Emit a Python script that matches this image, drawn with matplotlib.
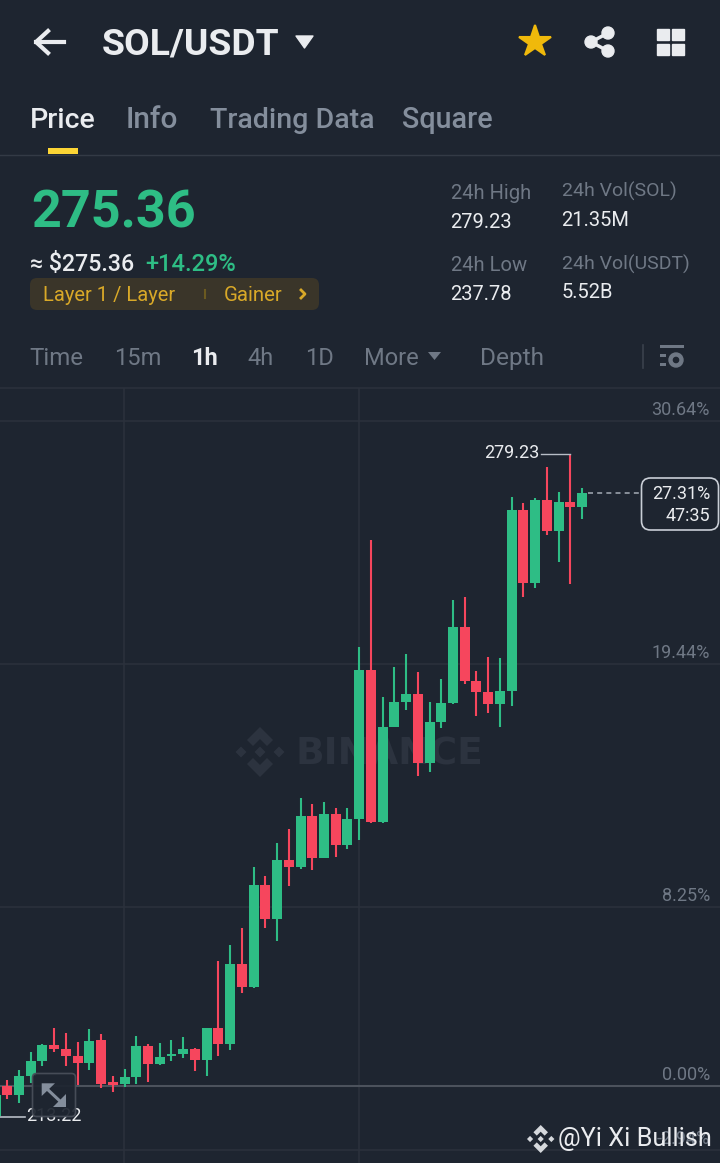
import matplotlib
matplotlib.use('Agg')
import matplotlib.pyplot as plt
from matplotlib.patches import FancyBboxPatch, Polygon, Circle, Rectangle

plt.rcParams['font.family'] = ['Roboto', 'DejaVu Sans']

# candle values, % change against the 216.3 base
highs = [-0.41, 0.28, 0.74, 1.57, 1.92, 2.69, 2.46, 2.03, 2.61, 2.40, 0.47, 0.78, 2.29, 1.92, 2.00, 2.12, 2.24, 1.74,
         2.66, 5.77, 6.50, 7.27, 10.11, 9.68, 11.18, 11.83, 13.27, 12.99, 13.07, 12.81, 12.81, 20.23, 25.16, 17.91,
         19.29, 19.91, 19.08, 17.71, 18.74, 22.39, 22.55, 19.14, 19.78, 19.71, 27.16, 26.85, 27.11, 28.54, 27.36,
         29.12, 27.57]
tops = [-0.41, 0.00, 0.46, 1.15, 1.88, 1.88, 1.69, 1.38, 2.09, 2.11, 0.09, 0.40, 1.86, 1.86, 1.35, 1.49, 1.70, 1.70,
        2.66, 2.66, 5.62, 5.62, 9.25, 9.25, 10.41, 10.41, 12.44, 12.44, 12.53, 12.53, 12.29, 19.17, 19.17, 16.56,
        17.68, 18.08, 18.06, 16.79, 17.63, 21.14, 21.14, 18.66, 18.16, 18.19, 26.54, 26.54, 27.00, 27.00, 26.92,
        26.92, 27.31]
bottoms = [-1.38, -0.43, -0.43, 0.46, 1.15, 1.69, 1.38, 1.07, 1.07, 0.09, 0.05, 0.09, 0.41, 1.01, 1.01, 1.37, 1.49,
           1.18, 1.18, 1.95, 1.95, 4.58, 4.58, 7.68, 7.68, 10.11, 10.11, 10.49, 10.49, 11.11, 11.11, 12.29, 12.18,
           12.18, 16.56, 17.68, 14.87, 14.87, 16.79, 17.63, 18.66, 18.17, 17.60, 17.60, 18.19, 23.18, 23.18, 25.56,
           25.56, 26.69, 26.69]
lows = [-1.42, -0.61, -0.77, 0.14, 0.94, 1.57, 0.92, 0.05, 0.74, -0.11, -0.29, -0.06, 0.09, 0.20, 0.97, 1.15, 1.30,
        0.69, 0.46, 1.40, 1.66, 4.27, 4.52, 7.27, 6.70, 9.22, 9.99, 9.95, 10.49, 10.57, 10.92, 11.34, 12.12, 12.13,
        16.56, 17.33, 14.30, 14.48, 16.51, 17.59, 18.52, 17.05, 17.20, 16.56, 17.52, 22.55, 22.96, 25.40, 24.13,
        23.13, 26.13]
# u = up (green), d = down (red)
colors = ['u', 'd', 'u', 'u', 'u', 'd', 'd', 'd', 'u', 'd', 'd', 'u', 'u', 'd', 'u', 'u', 'u', 'd', 'u', 'd', 'u',
          'd', 'u', 'd', 'u', 'd', 'u', 'd', 'u', 'd', 'u', 'u', 'd', 'u', 'u', 'u', 'd', 'u', 'u', 'u', 'd', 'd',
          'd', 'u', 'u', 'd', 'u', 'd', 'u', 'd', 'u']
grid_levels = [30.64, 19.44, 8.25, -2.94]
label_levels = [30.64, 19.44, 8.25, 0.0, -2.94]
axis_labels = ['30.64%', '19.44%', '8.25%', '0.00%', '-2.94%']

BG = '#1e2530'
GREEN = '#2ebd85'
RED = '#f6465d'
GREY = '#848e9c'
DIM = '#6f7885'
WHITE = '#eaecef'
GRID = '#2b313c'
YELLOW = '#f0b90b'
FAINT = '#2c333f'

W, H = 720, 1163
fig = plt.figure(figsize=(W / 100, H / 100), dpi=100, facecolor=BG)

# chart panel runs from y=388 to the bottom, scales are fitted to the gridlines
ax = fig.add_axes([0, 0, 1, (H - 388) / H], facecolor=BG)
ax.set_xlim(-0.62, 60.76)
ax.set_ylim(-3.55, 32.17)
ax.axis('off')

for lv in grid_levels:
    ax.axhline(lv, color=GRID, lw=1.2, zorder=1)
for xv in [9.99, 30.0]:
    ax.axvline(xv, color=GRID, lw=1.2, zorder=1)
ax.axhline(0, color='#4c525c', lw=1.5, zorder=1)

# watermark sits under the candles
ax.text(32.6, 15.3, 'BINANCE', color=FAINT, fontsize=27, fontweight='bold', family='DejaVu Sans', ha='center',
        va='center', zorder=1.5)

for i in range(len(highs)):
    x = i - 1
    c = GREEN if colors[i] == 'u' else RED
    ax.vlines(x, lows[i], highs[i], color=c, lw=1.5, zorder=3)
    ax.bar(x, max(tops[i] - bottoms[i], 0.12), bottom=bottoms[i], width=0.85, color=c, zorder=3)

for lv, txt in zip(label_levels, axis_labels):
    ax.annotate(txt, (1, lv), xycoords=('axes fraction', 'data'), xytext=(-10, 11), textcoords='offset pixels',
                color=DIM, fontsize=13, ha='right', va='center', zorder=5)

# overlay in screen pixels for the app chrome
ui = fig.add_axes([0, 0, 1, 1], facecolor='none')
ui.set_xlim(0, W)
ui.set_ylim(H, 0)
ui.axis('off')


def label(x, y, s, color=GREY, size=13, weight='normal', ha='left', zorder=6):
    ui.text(x, y + 1.5, s, color=color, fontsize=size, fontweight=weight, ha=ha, va='center', zorder=zorder)


def logo(cx, cy, r, color, zorder=2):
    # diamond mark: centre + side squares + top and bottom chevrons
    d = r * 0.22
    for ox, oy in [[0, 0], [-r * 0.76, 0], [r * 0.76, 0]]:
        ui.add_patch(Polygon([[cx + ox - d, cy + oy], [cx + ox, cy + oy - d], [cx + ox + d, cy + oy],
                              [cx + ox, cy + oy + d]], color=color, lw=0, zorder=zorder))
    for s in [-1, 1]:
        ui.add_patch(Polygon([[cx, cy + s * r], [cx + r * 0.52, cy + s * r * 0.48], [cx + r * 0.28, cy + s * r * 0.24],
                              [cx, cy + s * r * 0.52], [cx - r * 0.28, cy + s * r * 0.24],
                              [cx - r * 0.52, cy + s * r * 0.48]], color=color, lw=0, zorder=zorder))


# header
ui.plot([36, 64], [42, 42], color=WHITE, lw=3)
ui.plot([48, 36, 48], [31, 42, 53], color=WHITE, lw=3)
label(102, 43, 'SOL/USDT', WHITE, 26.8, 'bold')
ui.add_patch(Polygon([[296, 36], [313, 36], [304.5, 48]], color=WHITE, joinstyle='round', lw=1))
ui.plot([535], [42], marker='*', ms=24, color=YELLOW, mec=YELLOW, mew=1.5, mfc=YELLOW)
for cx, cy in [[608, 33], [591, 42], [608, 51]]:
    ui.add_patch(Circle((cx, cy), 6, color=WHITE))
ui.plot([608, 591, 608], [33, 42, 51], color=WHITE, lw=2.5)
for rx, ry in [[657, 29], [672, 29], [657, 44], [672, 44]]:
    ui.add_patch(Rectangle((rx, ry), 12, 11, color=WHITE))

# tabs
label(30, 119, 'Price', WHITE, 20.5, 'medium')
label(126, 119, 'Info', GREY, 21.5, 'medium')
label(210, 119, 'Trading Data', GREY, 20.5, 'medium')
label(402, 119, 'Square', GREY, 20.7, 'medium')
ui.add_patch(Rectangle((48, 148), 30, 6, color='#fcd535', lw=0))
ui.plot([0, 720], [154.5, 154.5], color='#333a45', lw=1)

# price block
label(31, 212, '275.36', GREEN, 37.5, 'bold')
label(30, 263, '≈ $275.36', WHITE, 16.7, 'medium')
label(145, 263, '+14.29%', GREEN, 17, 'medium')
ui.add_patch(FancyBboxPatch((30, 278), 289, 32, boxstyle='round,pad=0,rounding_size=7', fc='#3a3529', ec='none'))
label(43, 294, 'Layer 1 / Layer', '#d9a928', 14.5)
ui.plot([204.5, 204.5], [290, 298], color='#6b5a20', lw=1.5)
label(224, 294, 'Gainer', '#d9a928', 14.7)
ui.plot([301, 305, 301], [290, 294, 298], color='#d9a928', lw=2)

# 24h stats
label(451, 192, '24h High', DIM, 14.5)
label(450, 220.5, '279.23', WHITE, 14.5)
label(562, 190, '24h Vol(SOL)', DIM, 14)
label(561.5, 219.5, '21.35M', WHITE, 14.5)
label(451, 264, '24h Low', DIM, 14.5)
label(450, 292.5, '237.78', WHITE, 14.5)
label(562, 263, '24h Vol(USDT)', DIM, 14)
label(561.5, 291.5, '5.52B', WHITE, 14.5)

# interval row
label(29, 357, 'Time', DIM, 17.3)
label(114, 357, '15m', DIM, 17)
label(191, 357, '1h', WHITE, 17, 'bold')
label(247, 357, '4h', DIM, 17)
label(305, 357, '1D', DIM, 17)
label(364, 357, 'More', DIM, 17)
ui.add_patch(Polygon([[428, 352], [441, 352], [434.5, 360]], color=DIM, lw=0))
label(480, 357, 'Depth', DIM, 17.6)
ui.plot([643, 643], [345, 368], color='#3a414c', lw=1.2)
ui.add_patch(Rectangle((660, 345), 24, 3, color=DIM, lw=0))
ui.add_patch(Rectangle((660, 354), 6, 3, color=DIM, lw=0))
ui.add_patch(Rectangle((660, 363), 6, 3, color=DIM, lw=0))
ui.add_patch(Circle((676, 360), 7, fc=DIM, ec=DIM))
ui.add_patch(Circle((676, 360), 2.6, color=BG))
ui.plot([0, 720], [387.5, 387.5], color='#2b313c', lw=1.2)

# high / low callouts
label(484.5, 452, '279.23', WHITE, 13)
ui.plot([541, 570], [454, 454], color='#b7bdc6', lw=1)
label(26, 1114.5, '213.22', WHITE, 13)
ui.plot([0, 25], [1116.5, 1116.5], color='#b7bdc6', lw=1.2)

# last price tag
ui.plot([588, 640], [493, 493], color='#9aa1ab', lw=1.2, ls=(0, (3, 2.5)))
ui.add_patch(FancyBboxPatch((641.5, 478), 77, 52, boxstyle='round,pad=0,rounding_size=9', fc=BG, ec='#c9ced6',
                            lw=1.2))
label(710, 492.5, '27.31%', WHITE, 13, ha='right')
label(710, 514.5, '47:35', WHITE, 13, ha='right')

# expand button
ui.add_patch(FancyBboxPatch((32.5, 1073.5), 43, 43, boxstyle='round,pad=0,rounding_size=4', fc=BG, ec='#4a505b', lw=1.2,
                            alpha=0.93, zorder=7))
ui.add_patch(Polygon([[41.7, 1083.3], [55, 1083.3], [41.7, 1096]], color=GREY, lw=0, zorder=8))
ui.add_patch(Polygon([[66, 1094], [66, 1107.3], [53.3, 1107.3]], color=GREY, lw=0, zorder=8))
ui.plot([46, 62], [1088, 1103], color=GREY, lw=2.2, zorder=8)

# binance mark next to the faint word, and the post watermark
logo(260, 752, 25, FAINT, zorder=0.5)
logo(540.7, 1139, 14, '#d5d8dc', zorder=9)
label(558.5, 1137.5, '@Yi Xi Bullish', WHITE, 18.2, zorder=9)

fig.savefig('out.png', dpi=100, facecolor=BG)
